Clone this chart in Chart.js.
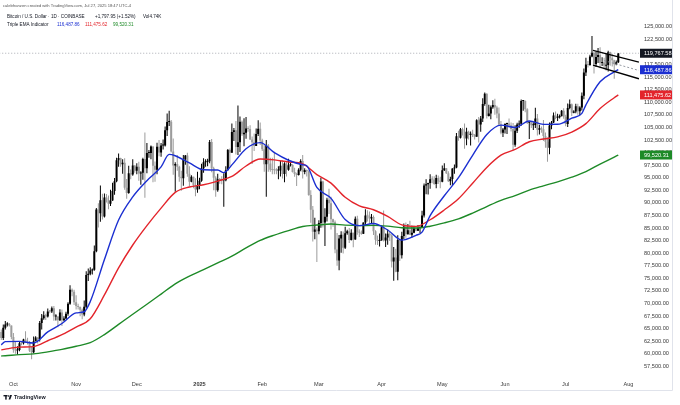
<!DOCTYPE html>
<html>
<head>
<meta charset="utf-8">
<title>BTCUSD 1D - Triple EMA</title>
<script src="https://cdn.jsdelivr.net/npm/chart.js@4.4.1/dist/chart.umd.min.js"></script>
<style>
  html, body { margin: 0; padding: 0; background: #fff; }
</style>
</head>
<body>
<canvas id="chart" width="680" height="405"></canvas>
<script>
// ---- data (prices in thousands of USD, Coinbase daily) ----
// first candle is 2024-09-25; x values are days counted from 2024-10-01
const firstDay = -6;

const opens = [
  64.30, 63.14, 65.18, 65.79, 65.88, 65.60,
  63.33, 60.80, 60.63, 60.75, 62.08, 62.05, 62.82, 62.22, 62.13, 60.58, 60.28, 62.45, 63.20, 62.85, 66.08, 67.04,
  67.64, 67.40, 68.40, 68.37, 69.03, 67.39, 67.40, 66.67, 68.20, 66.64, 67.02, 67.95, 69.93, 72.72, 72.33,
  70.22, 69.49, 69.29, 68.73, 67.80, 69.36, 75.64, 75.90, 76.55, 76.70, 80.40, 88.70, 87.96, 90.50, 87.30,
  91.05, 90.56, 89.85, 90.45, 92.35, 94.30, 98.50, 98.95, 97.70, 98.00, 93.00, 91.95, 95.90, 95.65, 97.45,
  96.40, 97.20, 95.85, 96.00, 98.75, 96.90, 99.90, 99.90, 101.20, 97.40, 96.60, 101.15, 100.00, 101.40, 101.40,
  104.45, 106.10, 106.15, 100.20, 97.45, 97.75, 97.20, 95.20, 94.90, 98.70, 99.40, 95.80, 94.20, 95.20, 93.50, 92.65,
  93.40, 94.40, 96.90, 98.10, 98.20, 98.30, 102.10, 96.90, 95.00, 92.50, 94.70, 94.55, 94.50, 94.50, 96.50, 100.50,
  99.95, 104.10, 104.45, 101.10, 102.05, 106.15, 103.65, 103.95, 104.80, 104.70, 102.60, 102.05, 101.30, 103.70, 104.75,
  102.40, 100.65, 97.70, 101.40, 97.85, 96.60, 96.55, 96.50, 96.45, 96.45, 97.40, 95.75, 97.85, 96.60, 97.50, 97.55,
  96.15, 95.75, 95.55, 96.60, 98.35, 96.15, 96.55, 96.30, 91.55, 88.65, 84.25, 84.70,
  84.35, 86.00, 94.25, 86.10, 87.25, 90.60, 89.95, 86.75, 86.15, 80.70, 78.55, 82.90, 83.65, 81.05, 83.95, 84.35,
  82.60, 84.05, 82.70, 86.85, 84.20, 84.05, 83.85, 86.10, 87.50, 87.45, 86.90, 87.20, 84.35, 82.65, 82.40,
  82.55, 85.15, 82.50, 83.10, 83.85, 83.50, 78.35, 79.15, 76.30, 82.60, 79.60, 83.40, 85.30, 83.75, 84.55, 83.65,
  84.05, 84.95, 84.45, 85.05, 85.15, 87.50, 93.45, 93.70, 93.95, 94.70, 94.65, 93.75, 94.95, 94.25,
  94.20, 96.50, 96.90, 95.90, 94.30, 94.75, 96.85, 97.05, 103.25, 102.95, 104.65, 104.15, 102.80, 104.15, 103.50, 103.75,
  103.50, 103.15, 106.45, 105.60, 106.80, 109.65, 111.70, 107.30, 107.80, 109.00, 109.45, 108.95, 107.80, 105.60, 103.95,
  104.60, 105.70, 105.80, 105.45, 104.70, 101.55, 104.35, 105.60, 105.75, 110.25, 110.25, 108.65, 105.95, 105.95, 105.45,
  105.50, 106.80, 104.55, 104.85, 104.65, 103.30, 102.15, 100.95, 105.40, 106.00, 107.40, 106.95, 107.05, 107.30, 108.35,
  107.15, 105.70, 108.85, 109.60, 107.95, 108.20, 109.20, 108.25, 108.95, 111.30, 115.95, 117.55, 117.45, 119.10, 119.85,
  117.65, 119.00, 119.40, 117.85, 117.95, 117.30, 117.45, 119.95, 118.75, 118.35, 117.60, 117.97
];
const highs = [
  64.80, 65.80, 66.50, 66.26, 66.08, 65.62,
  64.13, 62.37, 61.48, 62.48, 62.37, 62.97, 64.48, 63.18, 62.54, 61.32, 63.40, 63.47, 63.27, 66.48, 67.90, 68.42,
  67.93, 68.97, 68.69, 69.40, 69.50, 67.83, 67.47, 68.85, 68.78, 67.45, 68.36, 70.25, 73.62, 72.96, 72.70,
  71.60, 69.95, 69.40, 69.00, 70.58, 76.40, 76.95, 77.20, 76.94, 81.50, 89.00, 89.95, 93.48, 91.80, 91.85,
  91.78, 91.45, 92.60, 94.00, 94.95, 99.00, 99.80, 99.00, 98.70, 98.90, 94.75, 97.40, 96.65, 98.70, 97.50,
  97.90, 98.20, 96.30, 99.00, 104.00, 101.90, 100.50, 101.40, 101.20, 98.25, 101.95, 102.50, 101.90, 102.60, 105.20,
  107.80, 108.35, 106.50, 102.80, 98.10, 99.50, 97.40, 96.40, 99.50, 99.50, 99.95, 97.30, 95.50, 95.20, 94.90, 96.20,
  95.00, 97.80, 98.90, 98.70, 98.80, 102.50, 102.70, 97.20, 95.30, 95.80, 94.95, 95.30, 95.90, 97.30, 100.70, 100.80,
  105.80, 104.90, 106.30, 109.35, 107.20, 106.40, 106.85, 107.10, 105.25, 105.45, 103.20, 103.80, 104.80, 106.45, 106.00,
  102.75, 101.45, 102.50, 101.70, 99.00, 99.00, 100.15, 96.90, 97.30, 98.35, 98.45, 98.10, 98.10, 98.80, 97.95, 97.70,
  97.00, 96.00, 96.90, 98.70, 99.50, 96.90, 96.65, 96.50, 92.50, 89.40, 87.05, 85.10,
  86.55, 95.00, 94.40, 88.95, 91.00, 92.80, 91.20, 86.85, 86.50, 84.00, 83.60, 84.35, 84.30, 85.25, 84.65, 85.00,
  84.75, 84.05, 87.30, 87.45, 84.75, 84.50, 86.10, 88.75, 88.55, 88.30, 87.80, 87.50, 84.55, 83.50, 83.90,
  85.50, 88.50, 83.90, 84.70, 84.20, 83.75, 81.20, 80.85, 83.55, 82.70, 84.25, 85.90, 86.10, 85.80, 86.45, 85.50,
  85.45, 85.25, 85.60, 85.30, 88.45, 93.85, 94.70, 94.00, 95.70, 95.30, 95.30, 95.60, 95.45, 95.20,
  97.45, 97.90, 96.95, 96.30, 95.20, 96.90, 97.65, 103.90, 104.35, 104.90, 104.95, 105.80, 104.95, 104.35, 104.20, 104.55,
  103.70, 106.65, 107.10, 107.30, 110.80, 111.95, 111.80, 109.50, 109.35, 110.40, 110.70, 109.30, 108.95, 106.30, 104.90,
  105.85, 105.95, 106.80, 106.00, 105.90, 105.45, 105.95, 106.40, 110.55, 110.40, 110.35, 108.80, 106.20, 106.20, 106.05,
  108.90, 107.70, 105.55, 105.20, 106.50, 104.00, 103.00, 106.00, 106.30, 108.00, 108.20, 107.75, 107.60, 108.50, 108.80,
  107.55, 109.75, 110.55, 109.75, 108.45, 109.70, 109.70, 109.20, 111.95, 116.75, 118.85, 118.20, 119.45, 123.20, 119.95,
  120.05, 120.80, 120.95, 118.95, 118.85, 119.70, 120.25, 120.05, 119.55, 118.45, 118.30, 119.80
];
const lows = [
  62.70, 62.70, 64.80, 65.42, 65.42, 62.86,
  60.16, 59.98, 59.80, 60.46, 61.68, 61.83, 62.12, 61.84, 60.31, 58.90, 60.06, 62.45, 62.03, 62.44, 64.82, 66.75,
  66.70, 67.20, 68.03, 68.10, 66.57, 66.62, 65.27, 66.48, 65.50, 66.50, 66.90, 67.54, 69.73, 71.44, 69.69,
  68.80, 68.80, 67.47, 66.83, 67.45, 69.07, 74.45, 75.60, 75.73, 76.50, 80.20, 85.10, 86.25, 86.70, 87.10,
  90.05, 88.75, 89.40, 90.40, 91.60, 94.10, 97.20, 97.20, 95.80, 92.60, 90.80, 91.80, 94.70, 95.40, 96.00,
  95.70, 94.40, 93.60, 94.60, 91.00, 95.90, 99.00, 98.70, 94.10, 94.20, 95.70, 99.30, 99.20, 100.60, 101.20,
  103.30, 105.30, 100.00, 95.60, 92.20, 96.40, 94.20, 92.40, 93.40, 97.60, 95.20, 93.30, 94.10, 92.90, 91.30, 92.00,
  92.70, 94.20, 96.00, 97.20, 97.30, 97.90, 96.10, 92.50, 91.20, 92.20, 93.80, 93.70, 89.25, 94.30, 96.50, 97.30,
  99.95, 102.30, 99.60, 99.50, 100.10, 103.30, 101.25, 102.75, 104.15, 102.50, 97.75, 100.30, 101.30, 103.30, 101.50,
  100.30, 96.20, 91.20, 96.20, 96.20, 95.70, 95.70, 95.70, 94.70, 95.25, 94.85, 94.10, 95.25, 96.40, 97.25, 96.05,
  95.20, 93.35, 95.45, 96.30, 94.85, 95.70, 95.25, 91.40, 86.05, 82.30, 82.75, 78.25,
  83.75, 85.05, 85.10, 81.40, 86.30, 87.80, 84.70, 85.25, 80.00, 77.50, 76.60, 80.10, 79.95, 80.80, 83.65, 82.00,
  82.50, 81.15, 82.65, 83.65, 83.20, 83.65, 83.80, 85.55, 86.30, 85.85, 85.85, 83.60, 81.65, 81.60, 81.30,
  82.45, 82.30, 81.20, 81.65, 82.40, 77.15, 74.50, 76.20, 74.60, 78.45, 78.95, 82.80, 83.05, 83.70, 83.60, 83.10,
  83.95, 84.35, 84.40, 83.95, 85.10, 87.10, 91.70, 91.65, 92.80, 93.90, 93.60, 92.90, 93.75, 92.90,
  94.10, 96.35, 95.75, 94.15, 93.50, 93.40, 95.80, 96.90, 102.35, 102.80, 103.40, 100.75, 101.45, 102.60, 101.40, 103.10,
  102.60, 103.15, 102.00, 104.15, 106.10, 109.30, 106.80, 107.20, 106.65, 108.70, 107.55, 106.85, 105.35, 103.65, 103.10,
  103.80, 103.70, 105.00, 104.20, 100.40, 101.15, 103.90, 104.90, 105.35, 108.35, 108.05, 105.70, 102.70, 104.90, 104.50,
  104.90, 103.40, 103.60, 103.95, 102.30, 100.95, 98.20, 99.65, 104.65, 105.90, 106.65, 106.30, 106.80, 107.20, 106.75,
  105.25, 105.10, 108.65, 107.30, 107.85, 107.85, 107.55, 107.45, 108.40, 110.60, 115.25, 116.95, 117.30, 118.95, 115.75,
  117.05, 117.85, 116.80, 117.25, 116.60, 116.40, 116.15, 117.30, 117.15, 114.70, 117.40, 117.85
];
const closes = [
  63.14, 65.18, 65.79, 65.88, 65.60, 63.33,
  60.80, 60.63, 60.75, 62.08, 62.05, 62.82, 62.22, 62.13, 60.58, 60.28, 62.45, 63.20, 62.85, 66.08, 67.04, 67.64,
  67.40, 68.40, 68.37, 69.03, 67.39, 67.40, 66.67, 68.20, 66.64, 67.02, 67.95, 69.93, 72.72, 72.33, 70.22,
  69.49, 69.29, 68.73, 67.80, 69.36, 75.64, 75.90, 76.55, 76.70, 80.40, 88.70, 87.96, 90.50, 87.30, 91.05,
  90.56, 89.85, 90.45, 92.35, 94.30, 98.50, 98.95, 97.70, 98.00, 93.00, 91.95, 95.90, 95.65, 97.45, 96.40,
  97.20, 95.85, 96.00, 98.75, 96.90, 99.90, 99.90, 101.20, 97.40, 96.60, 101.15, 100.00, 101.40, 101.40, 104.45,
  106.10, 106.15, 100.20, 97.45, 97.75, 97.20, 95.20, 94.90, 98.70, 99.40, 95.80, 94.20, 95.20, 93.50, 92.65, 93.40,
  94.40, 96.90, 98.10, 98.20, 98.30, 102.10, 96.90, 95.00, 92.50, 94.70, 94.55, 94.50, 94.50, 96.50, 100.50, 99.95,
  104.10, 104.45, 101.10, 102.05, 106.15, 103.65, 103.95, 104.80, 104.70, 102.60, 102.05, 101.30, 103.70, 104.75, 102.40,
  100.65, 97.70, 101.40, 97.85, 96.60, 96.55, 96.50, 96.45, 96.45, 97.40, 95.75, 97.85, 96.60, 97.50, 97.55, 96.15,
  95.75, 95.55, 96.60, 98.35, 96.15, 96.55, 96.30, 91.55, 88.65, 84.25, 84.70, 84.35,
  86.00, 94.25, 86.10, 87.25, 90.60, 89.95, 86.75, 86.15, 80.70, 78.55, 82.90, 83.65, 81.05, 83.95, 84.35, 82.60,
  84.05, 82.70, 86.85, 84.20, 84.05, 83.85, 86.10, 87.50, 87.45, 86.90, 87.20, 84.35, 82.65, 82.40, 82.55,
  85.15, 82.50, 83.10, 83.85, 83.50, 78.35, 79.15, 76.30, 82.60, 79.60, 83.40, 85.30, 83.75, 84.55, 83.65, 84.05,
  84.95, 84.45, 85.05, 85.15, 87.50, 93.45, 93.70, 93.95, 94.70, 94.65, 93.75, 94.95, 94.25, 94.20,
  96.50, 96.90, 95.90, 94.30, 94.75, 96.85, 97.05, 103.25, 102.95, 104.65, 104.15, 102.80, 104.15, 103.50, 103.75, 103.50,
  103.15, 106.45, 105.60, 106.80, 109.65, 111.70, 107.30, 107.80, 109.00, 109.45, 108.95, 107.80, 105.60, 103.95, 104.60,
  105.70, 105.80, 105.45, 104.70, 101.55, 104.35, 105.60, 105.75, 110.25, 110.25, 108.65, 105.95, 105.95, 105.45, 105.50,
  106.80, 104.55, 104.85, 104.65, 103.30, 102.15, 100.95, 105.40, 106.00, 107.40, 106.95, 107.05, 107.30, 108.35, 107.15,
  105.70, 108.85, 109.60, 107.95, 108.20, 109.20, 108.25, 108.95, 111.30, 115.95, 117.55, 117.45, 119.10, 119.85, 117.65,
  119.00, 119.40, 117.85, 117.95, 117.30, 117.45, 119.95, 118.75, 118.35, 117.60, 117.97, 119.77
];

// Triple EMA (20 / 50 / 200)
const ema20Days = [-6, -4, 3, 10, 17, 24, 31, 35, 38, 45, 52, 59, 66, 73, 77, 80, 87, 94, 101, 104, 108, 115, 122, 129,
  136, 143, 145, 150, 157, 164, 171, 178, 185, 192, 199, 202, 206, 213, 220, 227, 234, 241, 248, 255, 262, 269, 276,
  281, 283, 290, 297, 299];
const ema20 = [61.75, 62.40, 62.44, 62.11, 64.33, 66.00, 68.11, 68.34, 70.37, 78.73, 86.58, 91.20, 94.41, 97.16, 99.65,
  99.38, 97.94, 96.58, 96.53, 96.01, 97.56, 100.78, 101.99, 99.98, 98.48, 97.59, 97.38, 93.08, 90.90, 86.68, 85.47,
  85.89, 84.60, 82.59, 83.54, 84.18, 87.46, 91.41, 95.02, 99.46, 103.61, 105.47, 105.00, 106.29, 105.62, 105.63, 106.84,
  107.81, 109.50, 114.10, 116.05, 116.49];

const emaDays = [-6, -4, 3, 10, 17, 24, 31, 38, 45, 52, 59, 66, 73, 80, 87, 94, 101, 108, 115, 122, 129, 136, 143, 150,
  157, 164, 171, 178, 185, 192, 199, 206, 213, 220, 227, 234, 241, 248, 255, 262, 269, 276, 283, 290, 297, 299];
const ema50 = [60.75, 60.90, 61.30, 61.41, 62.57, 63.80, 65.30, 66.95, 71.68, 77.07, 81.62, 85.48, 88.96, 92.08, 93.16,
  93.61, 94.34, 95.26, 97.34, 98.74, 98.56, 98.14, 97.76, 95.62, 93.93, 91.12, 89.41, 88.63, 87.30, 85.62, 85.32, 86.64,
  88.59, 90.81, 93.90, 97.06, 99.50, 100.62, 102.16, 102.70, 103.13, 104.09, 105.76, 108.76, 110.92, 111.48];
const ema200 = [59.55, 59.60, 59.81, 59.95, 60.37, 60.86, 61.48, 62.18, 63.80, 65.82, 67.84, 69.83, 71.85, 73.88, 75.41,
  76.72, 78.07, 79.40, 81.04, 82.53, 83.59, 84.49, 85.31, 85.59, 85.80, 85.57, 85.48, 85.53, 85.37, 85.04, 84.99, 85.36,
  86.01, 86.82, 87.97, 89.27, 90.51, 91.46, 92.55, 93.39, 94.19, 95.11, 96.21, 97.72, 99.11, 99.52];

// channel drawn on the July range: [startDay, startPrice, endDay, endPrice]
const channelTop = [286.5, 120.33, 309.2, 118.00];
const channelBottom = [286.5, 117.41, 309.2, 114.69];
const channelMid = [292, 118.30, 309.2, 116.34];

const lastPrice = 119.76758;
const lastValues = { ema20: 116.48786, ema50: 111.47562, ema200: 99.52031 };

const monthDays = [0, 31, 61, 92, 123, 151, 182, 212, 243, 273, 304];
const monthLabels = ['Oct', 'Nov', 'Dec', '2025', 'Feb', 'Mar', 'Apr', 'May', 'Jun', 'Jul', 'Aug'];
const yTicks = [57.5, 60, 62.5, 65, 67.5, 70, 72.5, 75, 77.5, 80, 82.5, 85, 87.5, 90, 92.5, 95, 97.5, 100,
  102.5, 105, 107.5, 110, 112.5, 115, 117.5, 120, 122.5, 125];

// ---- style ----
const F = '"Liberation Sans", Arial, sans-serif';
const UP = '#000000';
const DOWN = '#9c9c9c';
const BLUE = '#1b2fd1';
const RED = '#e3242b';
const GREEN = '#1d8a27';
const TEXT = '#3a3a3a';

const fmt = v => (v * 1000).toLocaleString('en-US', { minimumFractionDigits: 2, maximumFractionDigits: 2 });

const isUp = closes.map((c, i) => c >= opens[i]);
const candleColor = ctx => isUp[ctx.dataIndex] ? UP : DOWN;
const pts = (days, vals) => days.map((d, i) => ({ x: d, y: vals[i] }));
const seg = s => [{ x: s[0], y: s[1] }, { x: s[2], y: s[3] }];

// header, price tags, frame and logo
const decorPlugin = {
  id: 'decor',
  afterDraw(chart) {
    const c = chart.ctx;
    const area = chart.chartArea;
    const y = chart.scales.y;
    c.save();

    // frame lines
    c.strokeStyle = '#e0e3eb';
    c.lineWidth = 1;
    c.beginPath();
    c.moveTo(672.5, 0);
    c.lineTo(672.5, 390.5);
    c.lineTo(0, 390.5);
    c.stroke();

    // price tags on the right scale
    const tags = [
      [lastPrice, '#131722'],
      [lastValues.ema20, BLUE],
      [lastValues.ema50, RED],
      [lastValues.ema200, GREEN]
    ];
    c.font = '5.6px ' + F;
    c.textBaseline = 'middle';
    c.textAlign = 'left';
    tags.forEach(([v, col]) => {
      const py = y.getPixelForValue(v);
      c.fillStyle = col;
      c.fillRect(area.right + 1, py - 4.5, 32, 9);
      c.fillStyle = '#fff';
      c.fillText(fmt(v), area.right + 5, py + 0.3);
    });

    // header text
    c.fillStyle = '#555';
    c.font = '4.1px ' + F;
    c.fillText('calebfranzen created with TradingView.com, Jul 27, 2025 18:47 UTC-4', 3, 6);
    c.font = '4.6px ' + F;
    c.fillStyle = '#131722';
    c.fillText('Bitcoin / U.S. Dollar \u00b7 1D \u00b7 COINBASE', 7, 17);
    c.fillText('+1,797.95 (+1.52%)', 95, 17);
    c.fillText('Vol4.74K', 143, 17);
    c.fillText('Triple EMA Indicator', 7, 24.5);
    c.fillStyle = BLUE;
    c.fillText(fmt(lastValues.ema20), 57, 24.5);
    c.fillStyle = RED;
    c.fillText(fmt(lastValues.ema50), 85, 24.5);
    c.fillStyle = GREEN;
    c.fillText(fmt(lastValues.ema200), 113, 24.5);

    // TradingView logo
    c.fillStyle = '#131722';
    c.fillRect(3.5, 395, 4, 1.4);
    c.fillRect(5.2, 395, 1.5, 4.6);
    c.beginPath();
    c.arc(8.6, 396, 0.8, 0, Math.PI * 2);
    c.fill();
    c.beginPath();
    c.moveTo(10, 395);
    c.lineTo(12, 395);
    c.lineTo(10.3, 399.6);
    c.lineTo(8.6, 399.6);
    c.closePath();
    c.fill();
    c.font = 'bold 5.4px ' + F;
    c.fillText('TradingView', 14, 397.5);

    c.restore();
  }
};

const ctx = document.getElementById('chart').getContext('2d');
const chart = new Chart(ctx, {
  type: 'bar',
  data: {
    datasets: [
      {
        label: 'wicks',
        data: closes.map((c, i) => ({ x: firstDay + i, y: [lows[i], highs[i]] })),
        backgroundColor: candleColor,
        barThickness: 1,
        inflateAmount: 0,
        grouped: false,
        order: 6
      },
      {
        label: 'bodies',
        data: closes.map((c, i) => ({ x: firstDay + i, y: [opens[i], c] })),
        backgroundColor: candleColor,
        barThickness: 2,
        minBarLength: 1,
        inflateAmount: 0,
        grouped: false,
        order: 5
      },
      {
        type: 'line', label: 'last', data: [{ x: -7, y: lastPrice }, { x: 310, y: lastPrice }],
        borderColor: '#9598a1', borderWidth: 0.8, borderDash: [1, 2], pointRadius: 0, order: 4
      },
      {
        type: 'line', label: 'EMA 200', data: pts(emaDays, ema200),
        borderColor: GREEN, borderWidth: 1.4, pointRadius: 0, cubicInterpolationMode: 'monotone', order: 3
      },
      {
        type: 'line', label: 'EMA 50', data: pts(emaDays, ema50),
        borderColor: RED, borderWidth: 1.4, pointRadius: 0, cubicInterpolationMode: 'monotone', order: 2
      },
      {
        type: 'line', label: 'EMA 20', data: pts(ema20Days, ema20),
        borderColor: BLUE, borderWidth: 1.4, pointRadius: 0, cubicInterpolationMode: 'monotone', order: 1
      },
      {
        type: 'line', label: 'channel top', data: seg(channelTop),
        borderColor: '#000', borderWidth: 1.3, pointRadius: 0, order: 0
      },
      {
        type: 'line', label: 'channel bottom', data: seg(channelBottom),
        borderColor: '#000', borderWidth: 1.3, pointRadius: 0, order: 0
      },
      {
        type: 'line', label: 'channel mid', data: seg(channelMid),
        borderColor: '#8a8e99', borderWidth: 0.9, borderDash: [2, 2], pointRadius: 0, order: 0
      }
    ]
  },
  options: {
    responsive: false,
    animation: false,
    events: [],
    layout: { padding: { left: 0, right: 8, top: 0, bottom: 15 } },
    plugins: { legend: { display: false }, tooltip: { enabled: false } },
    scales: {
      x: {
        type: 'linear',
        min: -6.62,
        max: 309.24,
        offset: false,
        grid: { display: false, drawTicks: false },
        border: { display: false },
        afterBuildTicks: s => { s.ticks = monthDays.map(v => ({ value: v })); },
        afterFit: s => { s.height = 13; },
        ticks: {
          autoSkip: false,
          maxRotation: 0,
          padding: 4,
          color: TEXT,
          font: c => ({ family: F, size: 5.6, weight: c.tick && c.tick.value === 92 ? 'bold' : 'normal' }),
          callback: v => monthLabels[monthDays.indexOf(v)]
        }
      },
      y: {
        position: 'right',
        min: 55.36,
        max: 128.696,
        grid: { display: false, drawTicks: false },
        border: { display: false },
        afterBuildTicks: s => { s.ticks = yTicks.map(v => ({ value: v })); },
        afterFit: s => { s.width = 33; },
        ticks: {
          padding: 5,
          color: TEXT,
          font: { family: F, size: 5.6 },
          callback: v => fmt(v)
        }
      }
    }
  },
  plugins: [decorPlugin]
});
</script>
</body>
</html>
